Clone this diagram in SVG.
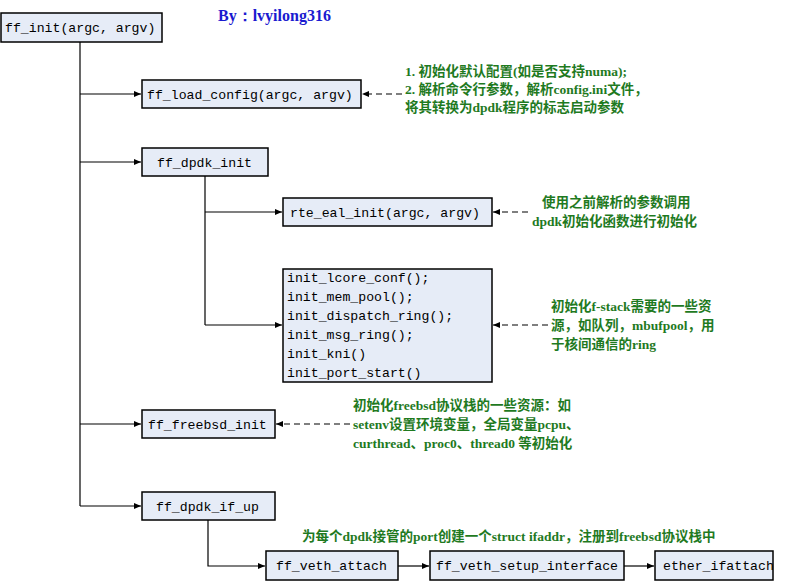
<svg xmlns="http://www.w3.org/2000/svg" width="787" height="582" viewBox="0 0 787 582">
<style>
.b{fill:#e6ecf7;stroke:#000;stroke-width:1.5}
.c{font-family:"Liberation Mono","DejaVu Sans Mono",monospace;font-size:13.2px;fill:#000}
.n{font-family:"Liberation Serif","Noto Sans CJK SC",serif;font-size:13.5px;fill:#1f7a1f;font-weight:bold}
.l{stroke:#000;stroke-width:1.2;fill:none}
.d{stroke:#000;stroke-width:1.2;fill:none;stroke-dasharray:6,4}
</style>
<defs><marker id="a" markerWidth="8" markerHeight="8" refX="7" refY="4" orient="auto" markerUnits="userSpaceOnUse"><path d="M0,1L7,4L0,7z" fill="#000"/></marker></defs>
<rect width="787" height="582" fill="#fff"/>
<text x="218" y="21" font-family="Liberation Serif,serif" font-size="16" font-weight="bold" fill="#1a1ad0">By：lvyilong316</text>
<g id="connectors">
<path class="l" d="M80,42V506"/>
<path class="l" d="M80,94H141" marker-end="url(#a)"/>
<path class="l" d="M80,162H141" marker-end="url(#a)"/>
<path class="l" d="M80,424H141" marker-end="url(#a)"/>
<path class="l" d="M80,506H141" marker-end="url(#a)"/>
<path class="l" d="M205,176V325"/>
<path class="l" d="M205,212H282" marker-end="url(#a)"/>
<path class="l" d="M205,325H282" marker-end="url(#a)"/>
<path class="l" d="M208,520V566H265" marker-end="url(#a)"/>
<path class="l" d="M398,566H429" marker-end="url(#a)"/>
<path class="l" d="M624,566H654" marker-end="url(#a)"/>
<path class="d" d="M402,94H362" marker-end="url(#a)"/>
<path class="d" d="M528,212H493" marker-end="url(#a)"/>
<path class="d" d="M548,325H493" marker-end="url(#a)"/>
<path class="d" d="M350,424H276" marker-end="url(#a)"/>
</g>
<g id="ff_init"><rect class="b" x="1" y="13" width="161" height="29"/><text class="c" x="5" y="32">ff_init(argc, argv)</text></g>
<g id="ff_load_config"><rect class="b" x="142" y="80" width="219" height="28"/><text class="c" x="147" y="99">ff_load_config(argc, argv)</text></g>
<g id="ff_dpdk_init"><rect class="b" x="142" y="148" width="126" height="28"/><text class="c" x="157" y="167">ff_dpdk_init</text></g>
<g id="rte_eal_init"><rect class="b" x="283" y="198" width="209" height="28"/><text class="c" x="290" y="217">rte_eal_init(argc, argv)</text></g>
<g id="init_block"><rect class="b" x="283" y="269" width="209" height="113"/>
<text class="c" x="287" y="282">init_lcore_conf();</text>
<text class="c" x="287" y="301">init_mem_pool();</text>
<text class="c" x="287" y="320">init_dispatch_ring();</text>
<text class="c" x="287" y="339">init_msg_ring();</text>
<text class="c" x="287" y="358">init_kni()</text>
<text class="c" x="287" y="377">init_port_start()</text></g>
<g id="ff_freebsd_init"><rect class="b" x="142" y="410" width="133" height="28"/><text class="c" x="148" y="429">ff_freebsd_init</text></g>
<g id="ff_dpdk_if_up"><rect class="b" x="142" y="492" width="133" height="28"/><text class="c" x="156" y="511">ff_dpdk_if_up</text></g>
<g id="ff_veth_attach"><rect class="b" x="266" y="551" width="132" height="29"/><text class="c" x="276" y="570">ff_veth_attach</text></g>
<g id="ff_veth_setup_interface"><rect class="b" x="430" y="551" width="194" height="29"/><text class="c" x="436" y="570">ff_veth_setup_interface</text></g>
<g id="ether_ifattach"><rect class="b" x="655" y="551" width="118" height="29"/><text class="c" x="663" y="570">ether_ifattach</text></g>
<g id="notes">
<text class="n" x="405" y="76">1. 初始化默认配置(如是否支持numa);</text>
<text class="n" x="405" y="94">2. 解析命令行参数，解析config.ini文件，</text>
<text class="n" x="405" y="112">将其转换为dpdk程序的标志启动参数</text>
<text class="n" x="542" y="207">使用之前解析的参数调用</text>
<text class="n" x="532" y="226">dpdk初始化函数进行初始化</text>
<text class="n" x="551" y="311">初始化f-stack需要的一些资</text>
<text class="n" x="551" y="330">源，如队列，mbufpool，用</text>
<text class="n" x="551" y="349">于核间通信的ring</text>
<text class="n" x="353" y="410">初始化freebsd协议栈的一些资源：如</text>
<text class="n" x="353" y="429">setenv设置环境变量，全局变量pcpu、</text>
<text class="n" x="353" y="448">curthread、proc0、thread0 等初始化</text>
<text class="n" x="302" y="541">为每个dpdk接管的port创建一个struct ifaddr，注册到freebsd协议栈中</text>
</g>
</svg>
